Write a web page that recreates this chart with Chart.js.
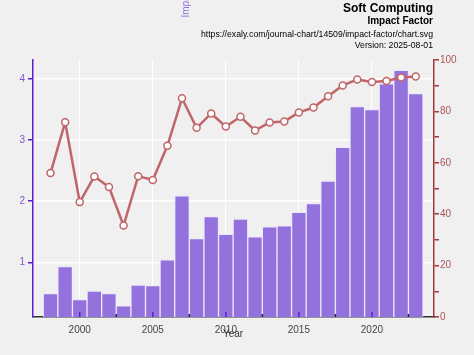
<!DOCTYPE html>
<html><head><meta charset="utf-8">
<script src="https://cdn.jsdelivr.net/npm/chart.js@4/dist/chart.umd.min.js"></script>
<style>html,body{margin:0;padding:0;background:#f0f0f0;overflow:hidden}#wrap{width:474px;height:355px;position:relative}</style>
</head><body><div id="wrap"><canvas id="c" width="474" height="355"></canvas></div>
<script>
const years = [1998,1999,2000,2001,2002,2003,2004,2005,2006,2007,2008,2009,2010,2011,2012,2013,2014,2015,2016,2017,2018,2019,2020,2021,2022,2023];
const impactFactor = [0.49,0.93,0.39,0.53,0.49,0.29,0.63,0.62,1.04,2.09,1.39,1.75,1.46,1.71,1.42,1.58,1.60,1.82,1.96,2.33,2.88,3.55,3.50,3.92,4.14,3.76];
const percentile = [56.0,75.8,44.7,54.7,50.6,35.6,54.8,53.3,66.6,85.1,73.6,79.2,74.1,77.9,72.6,75.7,76.1,79.6,81.5,85.9,90.1,92.4,91.4,91.8,93.2,93.6];
const leftTicks = [1,2,3,4];
const xTickYears = [2000,2005,2010,2015,2020];
const xMinorYears = [2002.5,2007.5,2012.5,2017.5,2022.5];
const rightTicks = [0,10,20,30,40,50,60,70,80,90,100];
const titleLines = ["Soft Computing","Impact Factor","https://exaly.com/journal-chart/14509/impact-factor/chart.svg","Version: 2025-08-01"];

const FONT = "'Liberation Sans', Arial, sans-serif";
const PURPLE_AX = 'rgb(95,30,205)';
const PURPLE_TXT = 'rgb(120,90,210)';
const BROWN = 'rgb(165,55,55)';
const LINE_C = 'rgb(192,102,105)';

const extras = {
  id: 'extras',
  afterDraw(chart) {
    const ctx = chart.ctx;
    const xs = chart.scales.x;
    const ca = chart.chartArea;
    ctx.save();
    ctx.lineWidth = 1.5;
    ctx.strokeStyle = PURPLE_AX;
    xTickYears.forEach(v => { const px = xs.getPixelForValue(v); ctx.beginPath(); ctx.moveTo(px, ca.bottom); ctx.lineTo(px, ca.bottom - 5); ctx.stroke(); });
    ctx.strokeStyle = '#222';
    xMinorYears.forEach(v => { const px = xs.getPixelForValue(v); ctx.beginPath(); ctx.moveTo(px, ca.bottom); ctx.lineTo(px, ca.bottom - 3); ctx.stroke(); });
    ctx.fillStyle = '#000';
    ctx.textAlign = 'right';
    ctx.textBaseline = 'alphabetic';
    ctx.font = 'bold 12px ' + FONT; ctx.fillText(titleLines[0], 433, 11.5);
    ctx.font = 'bold 10px ' + FONT; ctx.fillText(titleLines[1], 433, 23.5);
    ctx.font = '8.7px ' + FONT; ctx.fillText(titleLines[2], 433, 36.5);
    ctx.fillText(titleLines[3], 433, 48);
    ctx.fillStyle = '#333';
    ctx.textAlign = 'center';
    ctx.font = '10px ' + FONT;
    ctx.fillText('Year', 233, 336.5);
    ctx.translate(188.5, 17.5);
    ctx.rotate(-Math.PI / 2);
    ctx.textAlign = 'left';
    ctx.fillStyle = 'rgb(140,110,220)';
    ctx.font = '10px ' + FONT;
    ctx.fillText('Impact Factor', 0, 0);
    ctx.restore();
  }
};

new Chart(document.getElementById('c'), {
  data: {
    datasets: [
      {
        type: 'line',
        order: 1,
        yAxisID: 'y1',
        data: years.map((y, i) => ({x: y, y: percentile[i]})),
        borderColor: LINE_C,
        borderWidth: 2.5,
        pointRadius: 3.5,
        pointBorderWidth: 1.5,
        pointBackgroundColor: '#fff',
        pointBorderColor: LINE_C,
        tension: 0
      },
      {
        type: 'bar',
        order: 2,
        yAxisID: 'y',
        data: years.map((y, i) => ({x: y, y: impactFactor[i]})),
        backgroundColor: 'rgb(148,114,222)',
        borderColor: 'rgba(236,230,252,0.9)',
        borderWidth: 1,
        barPercentage: 1,
        categoryPercentage: 1
      }
    ]
  },
  options: {
    responsive: false,
    animation: false,
    devicePixelRatio: 1,
    layout: { padding: { top: 60, left: 0, right: 0, bottom: 0 } },
    plugins: { legend: { display: false }, tooltip: { enabled: false }, title: { display: false } },
    scales: {
      x: {
        type: 'linear',
        offset: false,
        min: 1996.8,
        max: 2024.25,
        afterBuildTicks: s => { s.ticks = xTickYears.map(v => ({value: v})); },
        afterFit: s => { s.height = 38; },
        grid: { color: '#fff', lineWidth: 1, drawTicks: false, offset: false },
        border: { display: true, color: '#333', width: 1.5 },
        ticks: { color: '#444', font: { size: 10, family: FONT }, padding: 7, maxRotation: 0, autoSkip: false, callback: v => String(v) }
      },
      y: {
        position: 'left',
        min: 0.107,
        max: 4.31,
        afterBuildTicks: s => { s.ticks = leftTicks.map(v => ({value: v})); },
        afterFit: s => { s.width = 33; },
        grid: { color: '#fff', lineWidth: 1.5, drawTicks: true, tickLength: 5, tickColor: PURPLE_AX },
        border: { display: true, color: PURPLE_AX, width: 1.5 },
        ticks: { color: PURPLE_TXT, font: { size: 10, family: FONT }, padding: 3 }
      },
      y1: {
        position: 'right',
        min: 0,
        max: 100,
        afterBuildTicks: s => { s.ticks = rightTicks.map(v => ({value: v})); },
        afterFit: s => { s.width = 40; },
        grid: { drawOnChartArea: false, drawTicks: true, tickLength: 5, tickColor: BROWN, lineWidth: 1.5 },
        border: { display: true, color: BROWN, width: 1.5 },
        ticks: { color: 'rgb(170,85,85)', font: { size: 10, family: FONT }, padding: 1, autoSkip: false, callback: v => (v % 20 === 0 ? String(v) : '') }
      }
    }
  },
  plugins: [extras]
});
</script>
</body></html>
